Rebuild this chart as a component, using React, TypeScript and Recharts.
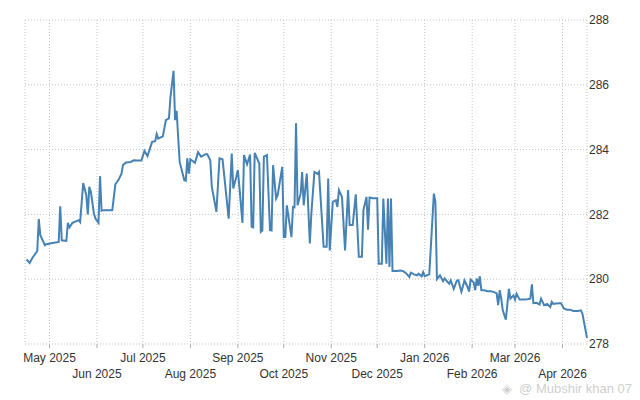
import React from "react";
import { LineChart, Line, XAxis, YAxis, CartesianGrid } from "recharts";

const dates = [
  "2025-04-16", "2025-04-18", "2025-04-20", "2025-04-23", "2025-04-24", "2025-04-25", "2025-04-28", "2025-04-29",
  "2025-05-03", "2025-05-07", "2025-05-08", "2025-05-09", "2025-05-12", "2025-05-13", "2025-05-14", "2025-05-16",
  "2025-05-19", "2025-05-20", "2025-05-21", "2025-05-23", "2025-05-25", "2025-05-26", "2025-05-27", "2025-05-28",
  "2025-05-30", "2025-05-31", "2025-06-02", "2025-06-03", "2025-06-04", "2025-06-05", "2025-06-11", "2025-06-13",
  "2025-06-15", "2025-06-17", "2025-06-18", "2025-06-20", "2025-06-23", "2025-06-25", "2025-06-27", "2025-06-30",
  "2025-07-02", "2025-07-04", "2025-07-07", "2025-07-09", "2025-07-10", "2025-07-11", "2025-07-14", "2025-07-16",
  "2025-07-18", "2025-07-19", "2025-07-21", "2025-07-22", "2025-07-23", "2025-07-25", "2025-07-28", "2025-07-29",
  "2025-07-30", "2025-07-31", "2025-08-01", "2025-08-04", "2025-08-06", "2025-08-08", "2025-08-11", "2025-08-12",
  "2025-08-14", "2025-08-15", "2025-08-18", "2025-08-20", "2025-08-22", "2025-08-26", "2025-08-28", "2025-08-29",
  "2025-08-31", "2025-09-01", "2025-09-02", "2025-09-04", "2025-09-05", "2025-09-07", "2025-09-09", "2025-09-10",
  "2025-09-11", "2025-09-12", "2025-09-15", "2025-09-16", "2025-09-17", "2025-09-18", "2025-09-20", "2025-09-22",
  "2025-09-23", "2025-09-24", "2025-09-26", "2025-09-27", "2025-09-30", "2025-10-01", "2025-10-02", "2025-10-03",
  "2025-10-06", "2025-10-07", "2025-10-08", "2025-10-09", "2025-10-10", "2025-10-12", "2025-10-13", "2025-10-14",
  "2025-10-16", "2025-10-18", "2025-10-19", "2025-10-21", "2025-10-23", "2025-10-24", "2025-10-27", "2025-10-29",
  "2025-10-30", "2025-10-31", "2025-11-02", "2025-11-04", "2025-11-05", "2025-11-06", "2025-11-08", "2025-11-10",
  "2025-11-12", "2025-11-13", "2025-11-15", "2025-11-17", "2025-11-19", "2025-11-21", "2025-11-22", "2025-11-24",
  "2025-11-25", "2025-11-26", "2025-11-28", "2025-12-01", "2025-12-02", "2025-12-04", "2025-12-05", "2025-12-07",
  "2025-12-08", "2025-12-09", "2025-12-10", "2025-12-11", "2025-12-14", "2025-12-16", "2025-12-18", "2025-12-20",
  "2025-12-22", "2025-12-23", "2025-12-25", "2025-12-27", "2025-12-28", "2025-12-30", "2025-12-31", "2026-01-01",
  "2026-01-04", "2026-01-07", "2026-01-08", "2026-01-09", "2026-01-11", "2026-01-13", "2026-01-14", "2026-01-17",
  "2026-01-18", "2026-01-20", "2026-01-22", "2026-01-23", "2026-01-24", "2026-01-25", "2026-01-27", "2026-01-29",
  "2026-01-30", "2026-01-31", "2026-02-02", "2026-02-03", "2026-02-04", "2026-02-05", "2026-02-06", "2026-02-07",
  "2026-02-09", "2026-02-11", "2026-02-13", "2026-02-15", "2026-02-17", "2026-02-18", "2026-02-19", "2026-02-20",
  "2026-02-21", "2026-02-23", "2026-02-25", "2026-02-26", "2026-02-28", "2026-03-01", "2026-03-02", "2026-03-04",
  "2026-03-07", "2026-03-09", "2026-03-11", "2026-03-12", "2026-03-13", "2026-03-15", "2026-03-17", "2026-03-18",
  "2026-03-20", "2026-03-22", "2026-03-24", "2026-03-25", "2026-03-26", "2026-03-28", "2026-03-30", "2026-03-31",
  "2026-04-02", "2026-04-04", "2026-04-06", "2026-04-08", "2026-04-11", "2026-04-13", "2026-04-14", "2026-04-17",
];

const values = [
  280.61, 280.5, 280.67, 280.87, 281.86, 281.36, 281.05, 281.08,
  281.12, 281.15, 282.25, 281.2, 281.18, 281.74, 281.6, 281.74,
  281.8, 281.82, 281.76, 282.97, 282.6, 282.0, 282.85, 282.7,
  282.03, 281.87, 281.74, 283.18, 282.11, 282.13, 282.13, 282.93,
  283.06, 283.26, 283.52, 283.6, 283.62, 283.67, 283.66, 283.66,
  283.96, 283.8, 284.24, 284.26, 284.48, 284.34, 284.41, 284.91,
  284.96, 285.63, 286.43, 284.91, 285.2, 283.62, 283.06, 283.04,
  283.73, 283.26, 283.7, 283.59, 283.92, 283.78, 283.86, 283.86,
  283.67, 282.85, 282.08, 283.73, 283.7, 281.87, 283.88, 282.8,
  283.16, 283.37, 282.85, 281.74, 283.83, 283.55, 283.85, 281.62,
  281.6, 283.9, 283.57, 281.46, 281.5, 283.78, 283.83, 281.51,
  281.5, 283.52, 282.49, 282.59, 283.47, 281.3, 281.3, 282.28,
  281.3, 282.23, 282.22, 284.81, 282.28, 282.64, 283.31, 282.28,
  283.26, 281.1, 282.03, 283.31, 283.25, 283.31, 281.0, 281.0,
  283.11, 280.89, 282.39, 282.44, 282.23, 282.75, 282.54, 280.89,
  282.75, 281.67, 281.67, 282.62, 280.69, 280.69, 282.13, 282.54,
  281.53, 282.52, 282.5, 282.5, 280.48, 280.48, 282.49, 280.48,
  282.49, 280.38, 282.49, 280.25, 280.25, 280.27, 280.25, 280.18,
  280.07, 280.2, 280.15, 280.12, 280.17, 280.09, 280.22, 280.09,
  280.15, 282.64, 282.39, 280.0, 280.12, 279.94, 280.02, 279.86,
  279.96, 279.7, 279.96, 279.97, 279.78, 279.61, 279.96, 279.76,
  279.62, 279.99, 279.9, 279.66, 280.02, 279.8, 280.09, 279.66,
  279.66, 279.63, 279.63, 279.61, 279.56, 279.2, 279.66, 279.4,
  279.04, 278.75, 279.7, 279.4, 279.5, 279.37, 279.55, 279.37,
  279.37, 279.38, 279.4, 279.84, 279.26, 279.27, 279.22, 279.4,
  279.2, 279.24, 279.14, 279.3, 279.24, 279.25, 279.26, 279.26,
  279.09, 279.06, 279.06, 279.02, 279.02, 279.04, 278.94, 278.19,
];

const monthTicks = [
  "2025-05-01", "2025-06-01", "2025-07-01", "2025-08-01", "2025-09-01", "2025-10-01",
  "2025-11-01", "2025-12-01", "2026-01-01", "2026-02-01", "2026-03-01", "2026-04-01",
];
const monthLabels = [
  "May 2025", "Jun 2025", "Jul 2025", "Aug 2025", "Sep 2025", "Oct 2025",
  "Nov 2025", "Dec 2025", "Jan 2026", "Feb 2026", "Mar 2026", "Apr 2026",
];
const yTicks = [278, 280, 282, 284, 286, 288];

const toDay = (s: string) => {
  const [y, m, d] = s.split("-").map(Number);
  return Date.UTC(y, m - 1, d) / 86400000;
};

const data = dates.map((d, i) => ({ t: toDay(d), v: values[i] }));
const tickDays = monthTicks.map(toDay);

const FONT = "'Liberation Sans', Arial, sans-serif";

// month labels alternate between two rows, like the original
const MonthTick = (props: any) => {
  const { x, y, payload } = props;
  const idx = tickDays.indexOf(payload.value);
  const second = idx % 2 === 1;
  return (
    <text
      x={x}
      y={y}
      dy={second ? 28 : 12}
      textAnchor="middle"
      fill="#333"
      fontSize={12}
      fontFamily={FONT}
    >
      {monthLabels[idx]}
    </text>
  );
};

export default function App() {
  return (
    <div style={{ position: "absolute", left: 0, top: 0, width: 640, height: 400, background: "#fff" }}>
      <LineChart
        width={640}
        height={400}
        data={data}
        margin={{ top: 20, right: 13, left: 25, bottom: 6 }}
      >
        <CartesianGrid stroke="#c4c4c4" strokeDasharray="1 2" />
        <XAxis
          dataKey="t"
          type="number"
          domain={[toDay("2025-04-15"), toDay("2026-04-17")]}
          ticks={tickDays}
          tick={<MonthTick />}
          height={50}
          axisLine={false}
          tickLine={{ stroke: "#aaa" }}
          tickSize={4}
          interval={0}
        />
        <YAxis
          orientation="right"
          domain={[278, 288]}
          ticks={yTicks}
          width={40}
          axisLine={false}
          tickLine={false}
          tickSize={0}
          tickMargin={2}
          tick={{ fill: "#333", fontSize: 12, fontFamily: FONT, textAnchor: "start" }}
        />
        <Line
          type="linear"
          dataKey="v"
          stroke="#4682b4"
          strokeWidth={2}
          dot={false}
          isAnimationActive={false}
        />
      </LineChart>
      <div
        style={{
          position: "absolute",
          right: 8,
          top: 381,
          color: "#cfcfcf",
          fontSize: 13,
          lineHeight: "15px",
          fontFamily: FONT,
          whiteSpace: "nowrap",
        }}
      >
        ◈&nbsp;&nbsp;@ Mubshir khan 07
      </div>
    </div>
  );
}
